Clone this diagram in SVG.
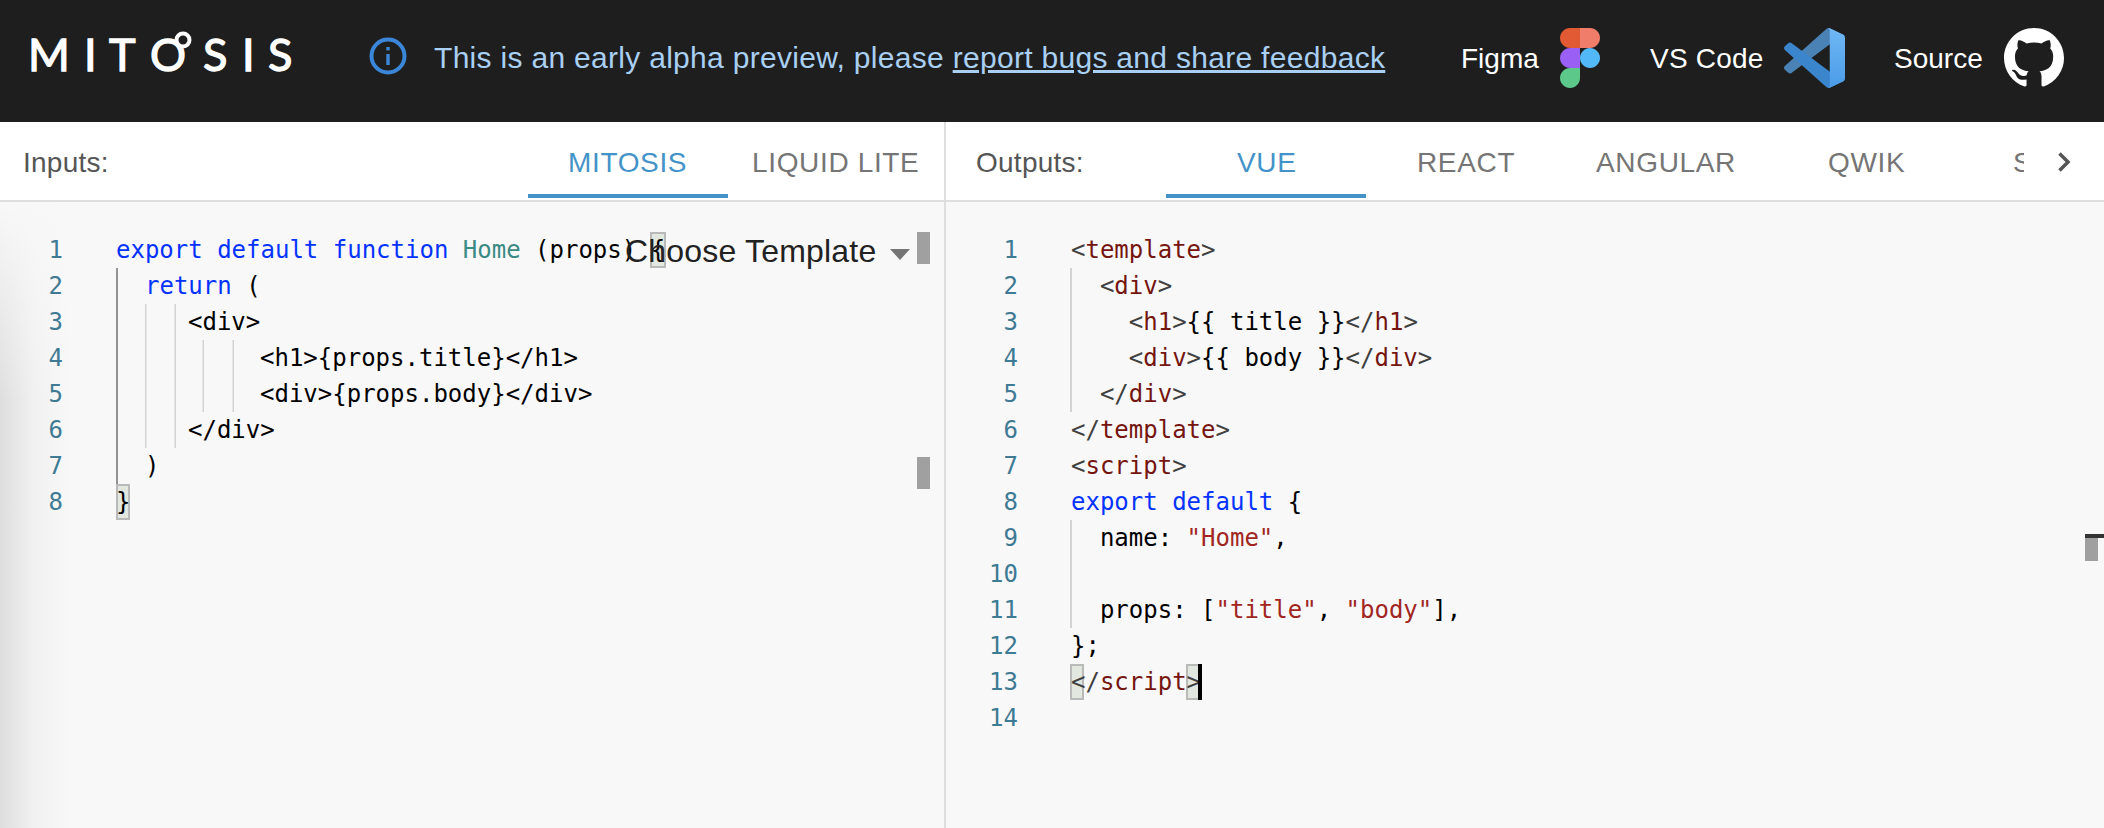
<svg xmlns="http://www.w3.org/2000/svg" width="2104" height="828" viewBox="0 0 2104 828">
<style>
.ui{font-family:"Liberation Sans",Arial,sans-serif}
.hd{font-size:28px;fill:#fff}
.lb{font-size:28px;fill:#555;letter-spacing:.25px}
.tab{font-size:28px;fill:#757575;letter-spacing:.65px}
.on{fill:#4493c8}
.code{font-family:"DejaVu Sans Mono",monospace;font-size:24px;fill:#000;white-space:pre}
.num{fill:#3f7a94;text-anchor:end}
.k{fill:#0433ff}.ty{fill:#3a8a85}.t{fill:#75150f}.d{fill:#404040}.s{fill:#a12622}
.box{fill:#e2e7e0;stroke:#b9b9b9;stroke-width:2}
.g{fill:#d3d3d3}
.sb{fill:#a0a0a0}
</style>
<defs>
<linearGradient id="shade" x1="0" x2="1" y1="0" y2="0"><stop offset="0" stop-color="#dedede"/><stop offset=".5" stop-color="#f1f1f1"/><stop offset="1" stop-color="#f8f8f8"/></linearGradient>
<linearGradient id="fade" x1="0" x2="0" y1="0" y2="1"><stop offset="0" stop-color="#f8f8f8"/><stop offset="1" stop-color="#f8f8f8" stop-opacity="0"/></linearGradient>
<linearGradient id="vsl" x1="0" x2="0" y1="0" y2="1"><stop offset="0" stop-color="#70b8f5"/><stop offset="1" stop-color="#4a9be8"/></linearGradient>
<clipPath id="tabclip"><rect x="946" y="124" width="1078" height="76"/></clipPath>
</defs>
<rect width="2104" height="828" fill="#f8f8f8"/>
<rect x="0" y="202" width="70" height="626" fill="url(#shade)"/>
<rect x="0" y="202" width="70" height="200" fill="url(#fade)"/>
<g id="header">
<rect width="2104" height="122" fill="#1e1e1e"/>
<text style="font-family:Lato,sans-serif;font-size:45px;fill:#fff;stroke:#fff;stroke-width:1.300px" x="28 84 109 150 203 242 268" y="71">MITOSIS</text>
<circle cx="183" cy="40" r="6.500" fill="#1e1e1e" stroke="#fff" stroke-width="4"/>
<g id="info"><circle cx="388" cy="56" r="16.500" fill="none" stroke="#3b86d8" stroke-width="4"/><rect x="386.300" y="54" width="3.400" height="11" fill="#3b86d8"/><rect x="386.300" y="47" width="3.400" height="3.400" fill="#3b86d8"/></g>
<text class="ui" x="434" y="68" font-size="30" letter-spacing=".3" fill="#a9cff2">This is an early alpha preview, please <tspan text-decoration="underline">report bugs and share feedback</tspan></text>
<text class="ui hd" x="1461" y="68">Figma</text>
<g id="figma" transform="translate(1560 28) scale(.2)">
<path fill="#5cc98a" d="M50 300c27.600 0 50-22.400 50-50v-50H50c-27.600 0-50 22.400-50 50s22.400 50 50 50z"/>
<path fill="#9a5ff5" d="M0 150c0-27.600 22.400-50 50-50h50v100H50c-27.600 0-50-22.400-50-50z"/>
<path fill="#e25a33" d="M0 50C0 22.400 22.400 0 50 0h50v100H50C22.400 100 0 77.600 0 50z"/>
<path fill="#f07d6a" d="M100 0h50c27.600 0 50 22.400 50 50s-22.400 50-50 50h-50V0z"/>
<path fill="#53b8f8" d="M200 150c0 27.600-22.400 50-50 50s-50-22.400-50-50 22.400-50 50-50 50 22.400 50 50z"/>
</g>
<text class="ui hd" x="1650" y="68" letter-spacing=".2">VS Code</text>
<g id="vscode" transform="translate(1784 28) scale(.61 .6)">
<path fill="#4a82b5" d="M96.500 10.800 75.900.9c-2.400-1.200-5.200-.7-7.100 1.200L1.400 63.500c-1.800 1.600-1.800 4.500 0 6.100l5.500 5c1.500 1.300 3.700 1.400 5.300.2L93.300 13.500c2.700-2.100 6.700-.1 6.700 3.400v-.2c0-2.400-1.400-4.700-3.500-5.900z"/>
<path fill="#3b85cc" d="M96.500 89.200 75.900 99.100c-2.400 1.200-5.200.7-7.100-1.200L1.400 36.500c-1.800-1.600-1.800-4.500 0-6.100l5.500-5c1.500-1.300 3.700-1.400 5.300-.2L93.300 86.500c2.700 2.100 6.700.1 6.700-3.400v.2c0 2.400-1.400 4.700-3.500 5.900z"/>
<path fill="url(#vsl)" d="M75.900 99.100c-2.400 1.200-5.200.6-7.100-1.200 2.300 2.300 6.200.7 6.200-2.600V4.700c0-3.300-3.900-4.900-6.200-2.600 1.900-1.900 4.700-2.400 7.100-1.200l20.600 9.900c2.200 1 3.500 3.100 3.500 5.500v67.400c0 2.400-1.400 4.500-3.500 5.500z"/>
</g>
<text class="ui hd" x="1894" y="68">Source</text>
<path id="github" fill="#fff" transform="translate(2004 28) scale(3.750)" d="M8 0C3.580 0 0 3.580 0 8c0 3.540 2.290 6.530 5.470 7.590.4.070.55-.17.55-.38 0-.19-.01-.82-.01-1.490-2.010.37-2.530-.49-2.690-.94-.09-.23-.48-.94-.82-1.130-.28-.15-.68-.52-.01-.53.63-.01 1.080.58 1.230.82.72 1.210 1.870.87 2.330.66.07-.52.28-.87.51-1.070-1.780-.2-3.640-.89-3.640-3.950 0-.87.31-1.590.82-2.150-.08-.2-.36-1.020.08-2.120 0 0 .67-.21 2.200.82.64-.18 1.320-.27 2-.27.68 0 1.360.09 2 .27 1.530-1.040 2.200-.82 2.200-.82.44 1.100.16 1.920.08 2.120.51.56.82 1.270.82 2.150 0 3.070-1.870 3.750-3.650 3.950.29.25.54.73.54 1.480 0 1.070-.01 1.930-.01 2.200 0 .21.15.46.55.38A8.013 8.013 0 0016 8c0-4.420-3.580-8-8-8z"/>
</g>
<g id="tabs">
<rect y="122" width="2104" height="78" fill="#fff"/>
<rect y="200" width="2104" height="2" fill="#dedede"/>
<rect x="944" y="122" width="2" height="706" fill="#dedede"/>
<text class="ui lb" x="23" y="172">Inputs:</text>
<text class="ui tab on" x="568" y="172">MITOSIS</text>
<rect x="528" y="194" width="200" height="4" fill="#4493c8"/>
<text class="ui tab" x="752" y="172">LIQUID LITE</text>
<text class="ui lb" x="976" y="172">Outputs:</text>
<text class="ui tab on" x="1237" y="172">VUE</text>
<rect x="1166" y="194" width="200" height="4" fill="#4493c8"/>
<text class="ui tab" x="1417" y="172">REACT</text>
<text class="ui tab" x="1596" y="172">ANGULAR</text>
<text class="ui tab" x="1828" y="172">QWIK</text>
<text class="ui tab" x="2013" y="172" clip-path="url(#tabclip)">SOLID</text>
<path d="M2059.500 153.500 2068 162 2059.500 170.500" fill="none" stroke="#555" stroke-width="3.500"/>
</g>
<g id="input-editor">
<rect class="box" x="651" y="233" width="14" height="34"/>
<rect class="box" x="117" y="485" width="12" height="34"/>
<rect x="116" y="268" width="2" height="216" fill="#939393"/>
<rect class="g" x="145" y="304" width="1.500" height="144"/><rect class="g" x="174.500" y="304" width="1.500" height="144"/>
<rect class="g" x="202.500" y="340" width="1.500" height="72"/><rect class="g" x="232.500" y="340" width="1.500" height="72"/>
<g class="code">
<text class="num" x="63" y="258">1</text><text class="num" x="63" y="294">2</text><text class="num" x="63" y="330">3</text><text class="num" x="63" y="366">4</text><text class="num" x="63" y="402">5</text><text class="num" x="63" y="438">6</text><text class="num" x="63" y="474">7</text><text class="num" x="63" y="510">8</text>
<text x="116" y="258" xml:space="preserve"><tspan class="k">export default function</tspan> <tspan class="ty">Home</tspan> (props) {</text>
<text x="145" y="294" xml:space="preserve"><tspan class="k">return</tspan> (</text>
<text x="188" y="330">&lt;div&gt;</text>
<text x="260" y="366">&lt;h1&gt;{props.title}&lt;/h1&gt;</text>
<text x="260" y="402">&lt;div&gt;{props.body}&lt;/div&gt;</text>
<text x="188" y="438">&lt;/div&gt;</text>
<text x="145" y="474">)</text>
<text x="116" y="510">}</text>
</g>
<text class="ui" x="625" y="262" font-size="32" letter-spacing=".2" fill="#222">Choose Template</text>
<path d="M890 249h20l-10 11z" fill="#757575"/>
<rect class="sb" x="917" y="232" width="13" height="32"/>
<rect class="sb" x="917" y="457" width="13" height="32"/>
</g>
<g id="output-editor">
<rect class="box" x="1071" y="665" width="12" height="34"/>
<rect class="box" x="1187" y="665" width="12" height="34"/>
<rect class="g" x="1070" y="268" width="2" height="144"/>
<rect class="g" x="1070" y="520" width="2" height="108"/>
<g class="code">
<text class="num" x="1018" y="258">1</text><text class="num" x="1018" y="294">2</text><text class="num" x="1018" y="330">3</text><text class="num" x="1018" y="366">4</text><text class="num" x="1018" y="402">5</text><text class="num" x="1018" y="438">6</text><text class="num" x="1018" y="474">7</text><text class="num" x="1018" y="510">8</text><text class="num" x="1018" y="546">9</text><text class="num" x="1018" y="582">10</text><text class="num" x="1018" y="618">11</text><text class="num" x="1018" y="654">12</text><text class="num" x="1018" y="690">13</text><text class="num" x="1018" y="726">14</text>
<text x="1071" y="258"><tspan class="d">&lt;</tspan><tspan class="t">template</tspan><tspan class="d">&gt;</tspan></text>
<text x="1099.900" y="294"><tspan class="d">&lt;</tspan><tspan class="t">div</tspan><tspan class="d">&gt;</tspan></text>
<text x="1128.800" y="330"><tspan class="d">&lt;</tspan><tspan class="t">h1</tspan><tspan class="d">&gt;</tspan>{{ title }}<tspan class="d">&lt;/</tspan><tspan class="t">h1</tspan><tspan class="d">&gt;</tspan></text>
<text x="1128.800" y="366"><tspan class="d">&lt;</tspan><tspan class="t">div</tspan><tspan class="d">&gt;</tspan>{{ body }}<tspan class="d">&lt;/</tspan><tspan class="t">div</tspan><tspan class="d">&gt;</tspan></text>
<text x="1099.900" y="402"><tspan class="d">&lt;/</tspan><tspan class="t">div</tspan><tspan class="d">&gt;</tspan></text>
<text x="1071" y="438"><tspan class="d">&lt;/</tspan><tspan class="t">template</tspan><tspan class="d">&gt;</tspan></text>
<text x="1071" y="474"><tspan class="d">&lt;</tspan><tspan class="t">script</tspan><tspan class="d">&gt;</tspan></text>
<text x="1071" y="510" xml:space="preserve"><tspan class="k">export default</tspan> {</text>
<text x="1099.900" y="546" xml:space="preserve">name: <tspan class="s">"Home"</tspan>,</text>
<text x="1099.900" y="618" xml:space="preserve">props: [<tspan class="s">"title"</tspan>, <tspan class="s">"body"</tspan>],</text>
<text x="1071" y="654">};</text>
<text x="1071" y="690"><tspan class="d">&lt;/</tspan><tspan class="t">script</tspan><tspan class="d">&gt;</tspan></text>
</g>
<rect x="1198" y="664" width="4" height="36" fill="#000"/>
<rect x="2085" y="534" width="19" height="4" fill="#333"/>
<rect class="sb" x="2085" y="538" width="13" height="23"/>
</g>
<g id="connectors"/>
</svg>
